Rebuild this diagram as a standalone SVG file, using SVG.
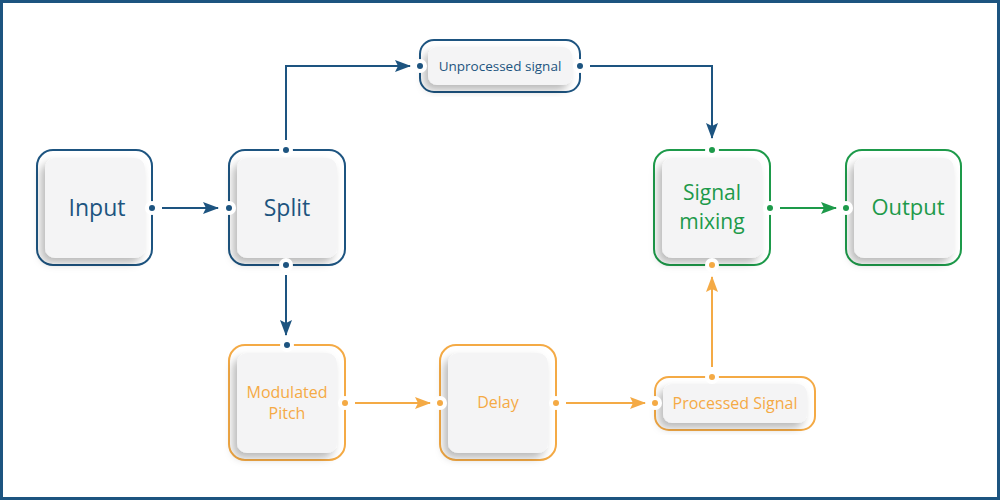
<svg xmlns="http://www.w3.org/2000/svg" width="1000" height="500" viewBox="0 0 1000 500">
<defs>
<style>
.b{stroke:#1d5480}.g{stroke:#1d9a4a}.o{stroke:#f4aa45}
.box{fill:none;stroke-width:2}
.card{fill:#f4f4f5;filter:url(#sh)}
.gap{fill:#fff;stroke:none}
.t{font-family:"Open Sans","Liberation Sans",sans-serif;text-anchor:middle}
.ln{fill:none;stroke-width:2}
</style>
<filter id="sh" x="-30%" y="-30%" width="160%" height="160%"><feDropShadow dx="-4" dy="5" stdDeviation="4" flood-color="#000" flood-opacity="0.28"/></filter>
<marker id="ab" markerWidth="16" markerHeight="12" refX="15" refY="6" orient="auto" markerUnits="userSpaceOnUse"><path d="M0,0 L16,6 L0,12 L3,6 z" fill="#1d5480"/></marker>
<marker id="ag" markerWidth="16" markerHeight="12" refX="15" refY="6" orient="auto" markerUnits="userSpaceOnUse"><path d="M0,0 L16,6 L0,12 L3,6 z" fill="#1d9a4a"/></marker>
<marker id="ao" markerWidth="16" markerHeight="12" refX="15" refY="6" orient="auto" markerUnits="userSpaceOnUse"><path d="M0,0 L16,6 L0,12 L3,6 z" fill="#f4aa45"/></marker>
</defs>
<rect x="0" y="0" width="1000" height="500" fill="#fff"/>
<rect x="1.5" y="1.5" width="997" height="497" fill="none" stroke="#1d5480" stroke-width="3"/>
<g id="connectors">
<path class="ln b" d="M162,208 H218" marker-end="url(#ab)"/>
<path class="ln b" d="M286,140 V66 H410" marker-end="url(#ab)"/>
<path class="ln b" d="M590,66 H712 V138" marker-end="url(#ab)"/>
<path class="ln b" d="M286,275 V335" marker-end="url(#ab)"/>
<path class="ln o" d="M355,403 H430" marker-end="url(#ao)"/>
<path class="ln o" d="M566,403 H645" marker-end="url(#ao)"/>
<path class="ln o" d="M712,367 V277" marker-end="url(#ao)"/>
<path class="ln g" d="M780,208 H836" marker-end="url(#ag)"/>
</g>
<g id="input"><rect class="box b" x="37" y="150" width="115" height="115" rx="16"/><rect class="card" x="45" y="158" width="100" height="100" rx="10"/>
<circle class="gap" cx="152" cy="208" r="7"/><circle cx="152" cy="208" r="3" fill="#1d5480"/>
<text class="t" x="97" y="216" font-size="23" fill="#1d5480">Input</text></g>
<g id="split"><rect class="box b" x="229" y="150" width="116" height="115" rx="16"/><rect class="card" x="237" y="158" width="100" height="100" rx="10"/>
<circle class="gap" cx="229" cy="208" r="7"/><circle cx="229" cy="208" r="3" fill="#1d5480"/>
<circle class="gap" cx="286" cy="150" r="7"/><circle cx="286" cy="150" r="3" fill="#1d5480"/>
<circle class="gap" cx="286" cy="265" r="7"/><circle cx="286" cy="265" r="3" fill="#1d5480"/>
<text class="t" x="287" y="216" font-size="23" fill="#1d5480">Split</text></g>
<g id="unprocessed"><rect class="box b" x="420" y="40" width="160" height="52" rx="14"/><rect class="card" x="428" y="47" width="144" height="38" rx="9"/>
<circle class="gap" cx="420" cy="66" r="7"/><circle cx="420" cy="66" r="3" fill="#1d5480"/>
<circle class="gap" cx="580" cy="66" r="7"/><circle cx="580" cy="66" r="3" fill="#1d5480"/>
<text class="t" x="500" y="71" font-size="13.5" fill="#1d5480">Unprocessed signal</text></g>
<g id="mixing"><rect class="box g" x="654" y="150" width="116" height="115" rx="16"/><rect class="card" x="662" y="158" width="100" height="100" rx="10"/>
<circle class="gap" cx="712" cy="150" r="7"/><circle cx="712" cy="150" r="3" fill="#1d9a4a"/>
<circle class="gap" cx="770" cy="208" r="7"/><circle cx="770" cy="208" r="3" fill="#1d9a4a"/>
<circle class="gap" cx="712" cy="265" r="7"/><circle cx="712" cy="265" r="3" fill="#f4aa45"/>
<text class="t" x="712" y="200" font-size="21" fill="#1d9a4a">Signal</text><text class="t" x="712" y="229" font-size="21" fill="#1d9a4a">mixing</text></g>
<g id="output"><rect class="box g" x="846" y="150" width="115" height="115" rx="16"/><rect class="card" x="854" y="158" width="100" height="100" rx="10"/>
<circle class="gap" cx="846" cy="208" r="7"/><circle cx="846" cy="208" r="3" fill="#1d9a4a"/>
<text class="t" x="908" y="215" font-size="22" fill="#1d9a4a">Output</text></g>
<g id="pitch"><rect class="box o" x="229" y="345" width="116" height="115" rx="16"/><rect class="card" x="237" y="353" width="100" height="100" rx="10"/>
<circle class="gap" cx="287" cy="345" r="7"/><circle cx="287" cy="345" r="3" fill="#1d5480"/>
<circle class="gap" cx="345" cy="403" r="7"/><circle cx="345" cy="403" r="3" fill="#f4aa45"/>
<text class="t" x="287" y="398" font-size="16" fill="#f4aa45">Modulated</text><text class="t" x="287" y="419" font-size="16" fill="#f4aa45">Pitch</text></g>
<g id="delay"><rect class="box o" x="440" y="345" width="116" height="115" rx="16"/><rect class="card" x="448" y="353" width="100" height="100" rx="10"/>
<circle class="gap" cx="440" cy="403" r="7"/><circle cx="440" cy="403" r="3" fill="#f4aa45"/>
<circle class="gap" cx="556" cy="403" r="7"/><circle cx="556" cy="403" r="3" fill="#f4aa45"/>
<text class="t" x="498" y="408" font-size="16" fill="#f4aa45">Delay</text></g>
<g id="processed"><rect class="box o" x="655" y="377" width="160" height="53" rx="14"/><rect class="card" x="663" y="384" width="144" height="39" rx="9"/>
<circle class="gap" cx="655" cy="403" r="7"/><circle cx="655" cy="403" r="3" fill="#f4aa45"/>
<circle class="gap" cx="712" cy="377" r="7"/><circle cx="712" cy="377" r="3" fill="#f4aa45"/>
<text class="t" x="735" y="409" font-size="16" fill="#f4aa45">Processed Signal</text></g>
</svg>
